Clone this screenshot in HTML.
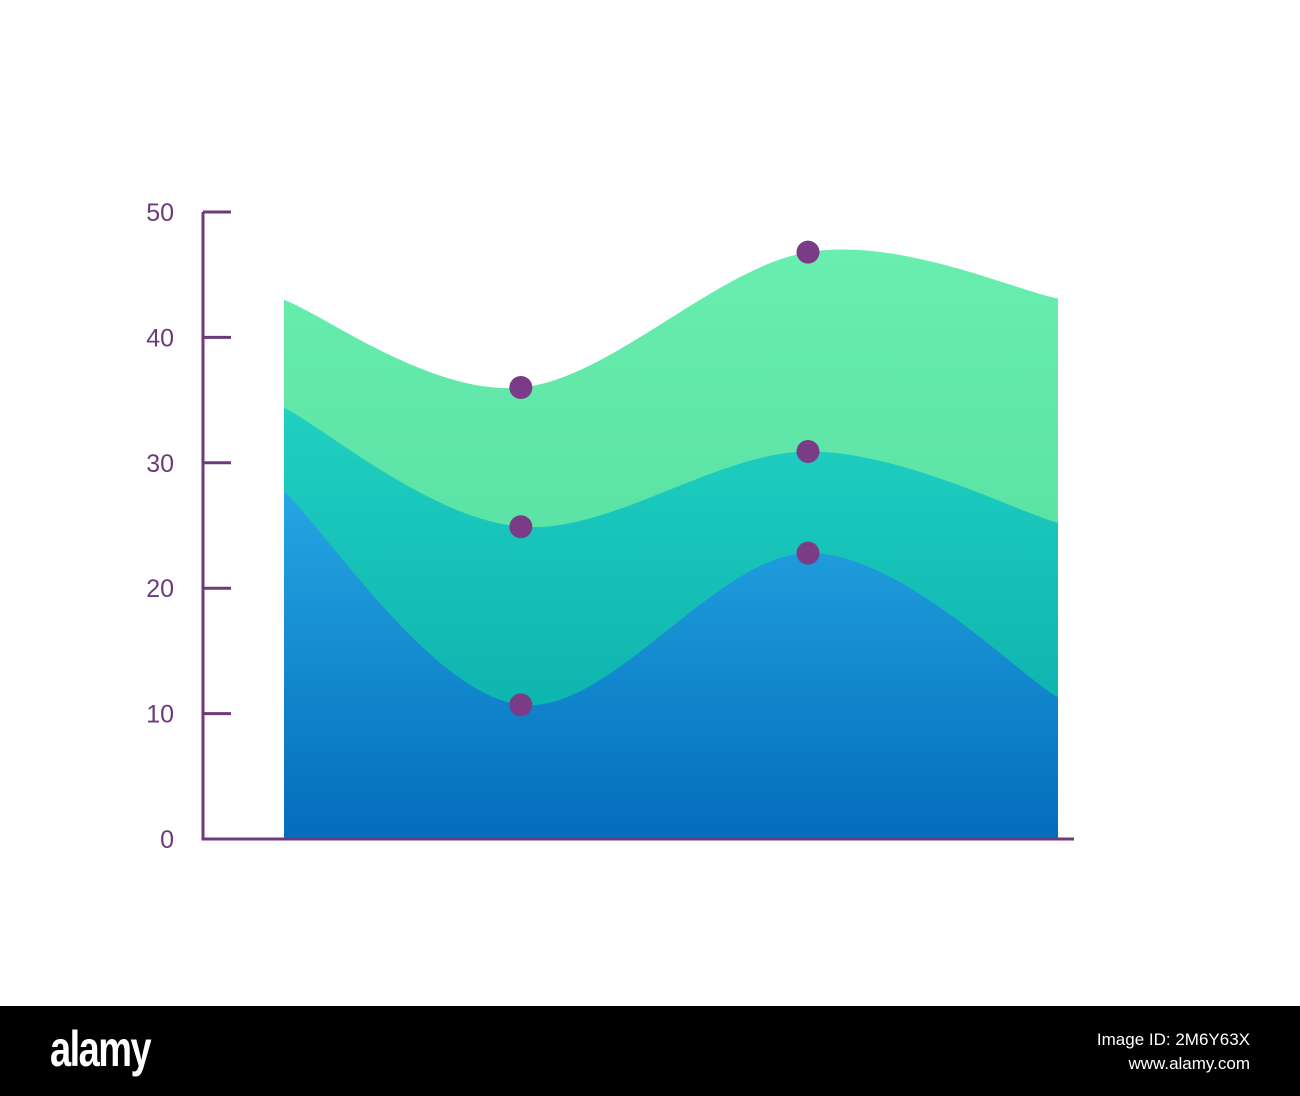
<!DOCTYPE html>
<html><head><meta charset="utf-8"><style>
html,body{margin:0;padding:0;background:#fff;}
body{width:1300px;height:1096px;position:relative;overflow:hidden;font-family:"Liberation Sans",sans-serif;}
#footer{position:absolute;left:0;top:1006px;width:1300px;height:90px;background:#000;}
</style></head><body>
<svg id="chart" width="1300" height="1006" style="position:absolute;left:0;top:0">
<defs>
<linearGradient id="gTop" x1="0" y1="0" x2="0" y2="1"><stop offset="0" stop-color="#68eeae"/><stop offset="1" stop-color="#4dd79c"/></linearGradient>
<linearGradient id="gMid" x1="0" y1="0" x2="0" y2="1"><stop offset="0" stop-color="#20d0c2"/><stop offset="1" stop-color="#07a8a6"/></linearGradient>
<linearGradient id="gBot" x1="0" y1="0" x2="0" y2="1"><stop offset="0" stop-color="#25a6e2"/><stop offset="1" stop-color="#036dbc"/></linearGradient>
</defs>
<g id="areas"></g><g id="axes"></g><g id="dots"></g>
</svg>
<div id="footer">
<div style="position:absolute;left:50px;top:14px;color:#fff;font-size:50px;font-weight:bold;letter-spacing:-2px;transform:scaleX(0.76);transform-origin:0 0">alamy</div>
<div style="position:absolute;right:50px;top:22px;color:#fff;font-size:17px;text-align:right;line-height:24px">Image ID: 2M6Y63X<br>www.alamy.com</div>
</div>
<script>
const xValues=[0,30.6,67.7,100];
const bottomSeries=[27.7,10.7,22.8,11.3];
const middleSeries=[34.4,24.9,30.9,25.2];
const topSeries=[43.0,36.0,46.8,43.1];
const dotIndices=[1,2];
const yTicks=[0,10,20,30,40,50];
const NS="http://www.w3.org/2000/svg";
const X=v=>284+v*(1058-284)/100;
const Y=v=>839-v*(839-212)/50;
function curve(vals){
  const p=vals.map((v,i)=>[X(xValues[i]),Y(v)]);
  let d="M"+p[0][0]+","+p[0][1];
  for(let i=0;i<p.length-1;i++){
    const p0=p[Math.max(0,i-1)],p1=p[i],p2=p[i+1],p3=p[Math.min(p.length-1,i+2)];
    const t=0.17;
    const c1=[p1[0]+(p2[0]-p0[0])*t,p1[1]+(p2[1]-p0[1])*t];
    const c2=[p2[0]-(p3[0]-p1[0])*t,p2[1]-(p3[1]-p1[1])*t];
    d+=` C${c1[0]},${c1[1]} ${c2[0]},${c2[1]} ${p2[0]},${p2[1]}`;
  }
  return d;
}
function area(vals,fill,name){
  const el=document.createElementNS(NS,"path");
  el.setAttribute("d",curve(vals)+` L${X(xValues[xValues.length-1])},${Y(0)} L${X(xValues[0])},${Y(0)} Z`);
  el.setAttribute("fill",fill);
  
  
  document.getElementById("areas").appendChild(el);
}
area(topSeries,"url(#gTop)","top-area");
area(middleSeries,"url(#gMid)","middle-area");
area(bottomSeries,"url(#gBot)","bottom-area");
const ax=document.getElementById("axes");
const col="#6d3a7c";
function line(x1,y1,x2,y2,name){
  const l=document.createElementNS(NS,"line");
  l.setAttribute("x1",x1);l.setAttribute("y1",y1);l.setAttribute("x2",x2);l.setAttribute("y2",y2);
  l.setAttribute("stroke",col);l.setAttribute("stroke-width",3);
  
  
  ax.appendChild(l);
}
line(203,Y(50),203,Y(0)+1.5,"y-axis");
line(201.5,Y(0),1074,Y(0),"x-axis");
yTicks.forEach(t=>{
  if(t>0) line(203,Y(t),231,Y(t),"y-tick");
  const tx=document.createElementNS(NS,"text");
  tx.setAttribute("x",174);tx.setAttribute("y",Y(t)+9);
  tx.setAttribute("text-anchor","end");tx.setAttribute("font-size","25");
  tx.setAttribute("fill",col);tx.setAttribute("font-family","Liberation Sans, sans-serif");
  tx.textContent=t;
  
  
  ax.appendChild(tx);
});
const dg=document.getElementById("dots");
[bottomSeries,middleSeries,topSeries].forEach(s=>{
  dotIndices.forEach(i=>{
    const c=document.createElementNS(NS,"circle");
    c.setAttribute("cx",X(xValues[i]));c.setAttribute("cy",Y(s[i]));c.setAttribute("r",11.5);
    c.setAttribute("fill","#7a3c86");
    
    
    dg.appendChild(c);
  });
});
</script>
</body></html>
